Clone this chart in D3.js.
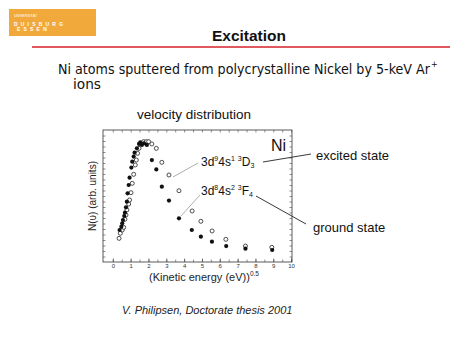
<!DOCTYPE html>
<html><head><meta charset="utf-8">
<script src="https://cdn.jsdelivr.net/npm/d3@7/dist/d3.min.js"></script>
<style>body{margin:0;background:#fff}svg{display:block}</style>
</head><body>
<script>
// Data (x: sqrt of kinetic energy, y: arbitrary units)
const groundX = [0.38,0.48,0.53,0.57,0.64,0.68,0.74,0.79,0.83,0.89,0.94,1.04,1.09,1.17,1.22,1.35,1.47,1.54,1.63,1.75,1.91,2.19,2.44,2.75,3.15,3.71,4.43,4.94,5.56,6.36,7.44,8.94];
const groundY = [2.91,3.21,3.52,3.82,4.18,4.48,4.97,5.48,6.24,7.00,7.67,8.58,9.12,9.58,9.94,10.33,10.73,10.88,10.64,10.79,10.64,9.27,8.42,6.85,5.58,3.97,2.91,2.30,1.85,1.45,1.21,1.09];
const excitedX = [0.35,0.42,0.53,0.61,0.68,0.74,0.79,0.89,0.94,1.02,1.09,1.17,1.26,1.32,1.39,1.47,1.58,1.73,1.88,2.01,2.19,2.44,2.75,3.15,3.71,4.45,4.94,5.57,6.34,7.44,8.92];
const excitedY = [2.15,2.61,2.91,3.15,3.88,4.27,4.73,5.27,5.64,6.30,7.15,7.97,8.82,9.27,9.88,10.33,10.79,10.94,10.94,10.94,10.73,10.33,9.06,7.91,6.48,4.64,3.70,2.82,2.06,1.45,1.33];
const xTickLabels = ["0","1","2","3","4","5","6","7","8","9","10"];

const W = 474, H = 355;
const svg = d3.select("body").append("svg").attr("width", W).attr("height", H);

// Logo
const logo = svg.append("g");
logo.append("rect").attr("x", 9).attr("y", 9).attr("width", 87).attr("height", 27).attr("fill", "#f2a93b");
logo.append("text").attr("x", 14).attr("y", 17).attr("font-family", "Liberation Sans").attr("font-size", 3.5).attr("fill", "#fff").text("UNIVERSITÄT");
logo.append("text").attr("x", 14).attr("y", 26).attr("font-family", "Liberation Sans").attr("font-weight", "bold").attr("font-size", 5).attr("fill", "#fff").attr("letter-spacing", 3.2).text("DUISBURG");
logo.append("text").attr("x", 17).attr("y", 31).attr("font-family", "Liberation Sans").attr("font-weight", "bold").attr("font-size", 5).attr("fill", "#fff").attr("letter-spacing", 3.2).text("ESSEN");

// Title
svg.append("text").attr("x", 249).attr("y", 41).attr("text-anchor", "middle")
  .attr("font-family", "Liberation Sans").attr("font-weight", "bold").attr("font-size", 15.5).attr("fill", "#111").text("Excitation");
svg.append("line").attr("x1", 32).attr("x2", 450).attr("y1", 47).attr("y2", 47).attr("stroke", "#d8202a").attr("stroke-width", 1.5);

// Subtitle
const sub = svg.append("text").attr("x", 58).attr("y", 74).attr("font-family", "DejaVu Sans").attr("font-size", 14).attr("fill", "#111");
sub.append("tspan").attr("textLength", 372).attr("lengthAdjust", "spacingAndGlyphs").text("Ni atoms sputtered from polycrystalline Nickel by 5-keV Ar");
sub.append("tspan").attr("font-size", 8).attr("dx", 1).attr("dy", -7).text("+");
svg.append("text").attr("x", 73).attr("y", 89).attr("font-family", "DejaVu Sans").attr("font-size", 14).attr("fill", "#111")
  .attr("textLength", 28).attr("lengthAdjust", "spacingAndGlyphs").text("ions");

svg.append("text").attr("x", 137).attr("y", 119).attr("font-family", "Liberation Sans").attr("font-size", 13.5).attr("fill", "#111").text("velocity distribution");

// Plot
const x = d3.scaleLinear().domain([-0.55, 10.05]).range([103, 292]);
const y = d3.scaleLinear().domain([0, 12]).range([262, 130]);

const g = svg.append("g");
g.append("rect").attr("x", 103).attr("y", 130).attr("width", 189).attr("height", 132).attr("fill", "none").attr("stroke", "#333").attr("stroke-width", 0.8);

const xMinor = d3.range(0, 10.01, 0.5);
const yMinor = d3.range(0.5, 12, 0.5);
g.append("g").attr("transform", "translate(0,262)")
  .call(d3.axisBottom(x).tickValues(xMinor).tickSize(-2.5).tickFormat(""))
  .call(a => { a.select(".domain").remove(); a.selectAll("line").attr("stroke", "#444").attr("stroke-width", 0.6); });
g.append("g").attr("transform", "translate(0,262)")
  .call(d3.axisBottom(x).tickValues(d3.range(0, 11)).tickSize(-3.5).tickPadding(2).tickFormat((d, i) => xTickLabels[i]))
  .call(a => { a.select(".domain").remove(); a.selectAll("line").attr("stroke", "#444").attr("stroke-width", 0.7);
    a.selectAll("text").attr("font-family", "Liberation Sans").attr("font-size", 6).attr("fill", "#333"); });
g.append("g").attr("transform", "translate(0,130)")
  .call(d3.axisTop(x).tickValues(xMinor).tickSize(-2.5).tickFormat(""))
  .call(a => { a.select(".domain").remove(); a.selectAll("line").attr("stroke", "#444").attr("stroke-width", 0.6); });
g.append("g").attr("transform", "translate(103,0)")
  .call(d3.axisLeft(y).tickValues(yMinor).tickSize(-2.5).tickFormat(""))
  .call(a => { a.select(".domain").remove(); a.selectAll("line").attr("stroke", "#444").attr("stroke-width", 0.6); });
g.append("g").attr("transform", "translate(292,0)")
  .call(d3.axisRight(y).tickValues(yMinor).tickSize(-2.5).tickFormat(""))
  .call(a => { a.select(".domain").remove(); a.selectAll("line").attr("stroke", "#444").attr("stroke-width", 0.6); });

// Points
g.selectAll(".ex").data(excitedX).enter().append("circle")
  .attr("cx", d => x(d)).attr("cy", (d, i) => y(excitedY[i])).attr("r", 2)
  .attr("fill", "#fff").attr("stroke", "#222").attr("stroke-width", 0.8);
g.selectAll(".gr").data(groundX).enter().append("circle")
  .attr("cx", d => x(d)).attr("cy", (d, i) => y(groundY[i])).attr("r", 2.1)
  .attr("fill", "#111");

// Labels inside plot
svg.append("text").attr("x", 271).attr("y", 151).attr("font-family", "Liberation Sans").attr("font-size", 16).attr("fill", "#111").text("Ni");
function term(xp, yp, a, b, c, d) {
  const t = svg.append("text").attr("x", xp).attr("y", yp).attr("font-family", "Liberation Sans").attr("font-size", 12).attr("fill", "#111");
  t.append("tspan").text("3d");
  t.append("tspan").attr("font-size", 7).attr("dy", -5).text(a);
  t.append("tspan").attr("dy", 5).text("4s");
  t.append("tspan").attr("font-size", 7).attr("dy", -5).text(b);
  t.append("tspan").attr("font-size", 7).attr("dx", 3).text(c);
  t.append("tspan").attr("dy", 5).text(d[0]);
  t.append("tspan").attr("font-size", 7).attr("dy", 2).text(d[1]);
}
term(201, 166, "9", "1", "3", "D3");
term(201, 195, "8", "2", "3", "F4");
svg.append("line").attr("x1", 173).attr("y1", 177).attr("x2", 198).attr("y2", 163).attr("stroke", "#999").attr("stroke-width", 0.8);
svg.append("line").attr("x1", 181).attr("y1", 216).attr("x2", 200).attr("y2", 195).attr("stroke", "#999").attr("stroke-width", 0.8);
svg.append("line").attr("x1", 263).attr("y1", 162).attr("x2", 311).attr("y2", 154).attr("stroke", "#222").attr("stroke-width", 0.9);
svg.append("line").attr("x1", 256).attr("y1", 196).attr("x2", 306).attr("y2", 224).attr("stroke", "#222").attr("stroke-width", 0.9);

svg.append("text").attr("x", 316).attr("y", 160).attr("font-family", "Liberation Sans").attr("font-size", 13).attr("fill", "#111").text("excited state");
svg.append("text").attr("x", 313).attr("y", 232).attr("font-family", "Liberation Sans").attr("font-size", 13).attr("fill", "#111").text("ground state");

// Axis titles
const xl = svg.append("text").attr("x", 149).attr("y", 281).attr("font-family", "Liberation Sans").attr("font-size", 11).attr("fill", "#222");
xl.append("tspan").text("(Kinetic energy (eV))");
xl.append("tspan").attr("font-size", 6.5).attr("dy", -5).text("0.5");
svg.append("text").attr("transform", "translate(96,196) rotate(-90)").attr("text-anchor", "middle")
  .attr("font-family", "Liberation Sans").attr("font-size", 10).attr("fill", "#222").text("N(υ) (arb. units)");

svg.append("text").attr("x", 122).attr("y", 314).attr("font-family", "Liberation Sans").attr("font-style", "italic")
  .attr("font-size", 11).attr("fill", "#222").text("V. Philipsen, Doctorate thesis 2001");
</script>
</body></html>
